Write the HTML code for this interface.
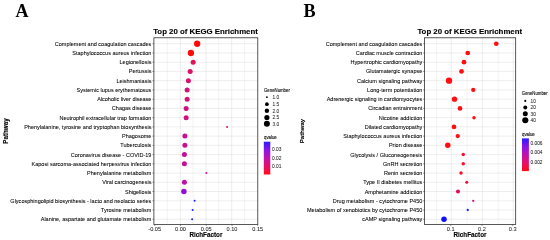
<!DOCTYPE html>
<html><head><meta charset="utf-8"><title>KEGG Enrichment</title>
<style>html,body{margin:0;padding:0;background:#fff;overflow:hidden}svg{display:block;filter:blur(0.3px)}</style></head>
<body>
<svg width="550" height="240" viewBox="0 0 550 240" font-family='"Liberation Sans", Arial, sans-serif'>
<rect width="550" height="240" fill="#fff"/>
<line x1="153.9" x2="257.8" y1="43.75" y2="43.75" stroke="#e2e2e2" stroke-width="0.6"/>
<line x1="153.9" x2="257.8" y1="52.99" y2="52.99" stroke="#e2e2e2" stroke-width="0.6"/>
<line x1="153.9" x2="257.8" y1="62.22" y2="62.22" stroke="#e2e2e2" stroke-width="0.6"/>
<line x1="153.9" x2="257.8" y1="71.46" y2="71.46" stroke="#e2e2e2" stroke-width="0.6"/>
<line x1="153.9" x2="257.8" y1="80.70" y2="80.70" stroke="#e2e2e2" stroke-width="0.6"/>
<line x1="153.9" x2="257.8" y1="89.94" y2="89.94" stroke="#e2e2e2" stroke-width="0.6"/>
<line x1="153.9" x2="257.8" y1="99.17" y2="99.17" stroke="#e2e2e2" stroke-width="0.6"/>
<line x1="153.9" x2="257.8" y1="108.41" y2="108.41" stroke="#e2e2e2" stroke-width="0.6"/>
<line x1="153.9" x2="257.8" y1="117.65" y2="117.65" stroke="#e2e2e2" stroke-width="0.6"/>
<line x1="153.9" x2="257.8" y1="126.88" y2="126.88" stroke="#e2e2e2" stroke-width="0.6"/>
<line x1="153.9" x2="257.8" y1="136.12" y2="136.12" stroke="#e2e2e2" stroke-width="0.6"/>
<line x1="153.9" x2="257.8" y1="145.36" y2="145.36" stroke="#e2e2e2" stroke-width="0.6"/>
<line x1="153.9" x2="257.8" y1="154.59" y2="154.59" stroke="#e2e2e2" stroke-width="0.6"/>
<line x1="153.9" x2="257.8" y1="163.83" y2="163.83" stroke="#e2e2e2" stroke-width="0.6"/>
<line x1="153.9" x2="257.8" y1="173.07" y2="173.07" stroke="#e2e2e2" stroke-width="0.6"/>
<line x1="153.9" x2="257.8" y1="182.31" y2="182.31" stroke="#e2e2e2" stroke-width="0.6"/>
<line x1="153.9" x2="257.8" y1="191.54" y2="191.54" stroke="#e2e2e2" stroke-width="0.6"/>
<line x1="153.9" x2="257.8" y1="200.78" y2="200.78" stroke="#e2e2e2" stroke-width="0.6"/>
<line x1="153.9" x2="257.8" y1="210.02" y2="210.02" stroke="#e2e2e2" stroke-width="0.6"/>
<line x1="153.9" x2="257.8" y1="219.25" y2="219.25" stroke="#e2e2e2" stroke-width="0.6"/>
<line x1="167.4" x2="167.4" y1="37.8" y2="224.5" stroke="#e2e2e2" stroke-width="0.4"/>
<line x1="193.1" x2="193.1" y1="37.8" y2="224.5" stroke="#e2e2e2" stroke-width="0.4"/>
<line x1="218.8" x2="218.8" y1="37.8" y2="224.5" stroke="#e2e2e2" stroke-width="0.4"/>
<line x1="244.6" x2="244.6" y1="37.8" y2="224.5" stroke="#e2e2e2" stroke-width="0.4"/>
<line x1="180.3" x2="180.3" y1="37.8" y2="224.5" stroke="#e2e2e2" stroke-width="0.6"/>
<line x1="206.0" x2="206.0" y1="37.8" y2="224.5" stroke="#e2e2e2" stroke-width="0.6"/>
<line x1="231.7" x2="231.7" y1="37.8" y2="224.5" stroke="#e2e2e2" stroke-width="0.6"/>
<rect x="153.9" y="37.8" width="103.9" height="186.7" fill="none" stroke="#222" stroke-width="0.75"/>
<line x1="152.4" x2="153.9" y1="43.75" y2="43.75" stroke="#333" stroke-width="0.5"/>
<line x1="152.4" x2="153.9" y1="52.99" y2="52.99" stroke="#333" stroke-width="0.5"/>
<line x1="152.4" x2="153.9" y1="62.22" y2="62.22" stroke="#333" stroke-width="0.5"/>
<line x1="152.4" x2="153.9" y1="71.46" y2="71.46" stroke="#333" stroke-width="0.5"/>
<line x1="152.4" x2="153.9" y1="80.70" y2="80.70" stroke="#333" stroke-width="0.5"/>
<line x1="152.4" x2="153.9" y1="89.94" y2="89.94" stroke="#333" stroke-width="0.5"/>
<line x1="152.4" x2="153.9" y1="99.17" y2="99.17" stroke="#333" stroke-width="0.5"/>
<line x1="152.4" x2="153.9" y1="108.41" y2="108.41" stroke="#333" stroke-width="0.5"/>
<line x1="152.4" x2="153.9" y1="117.65" y2="117.65" stroke="#333" stroke-width="0.5"/>
<line x1="152.4" x2="153.9" y1="126.88" y2="126.88" stroke="#333" stroke-width="0.5"/>
<line x1="152.4" x2="153.9" y1="136.12" y2="136.12" stroke="#333" stroke-width="0.5"/>
<line x1="152.4" x2="153.9" y1="145.36" y2="145.36" stroke="#333" stroke-width="0.5"/>
<line x1="152.4" x2="153.9" y1="154.59" y2="154.59" stroke="#333" stroke-width="0.5"/>
<line x1="152.4" x2="153.9" y1="163.83" y2="163.83" stroke="#333" stroke-width="0.5"/>
<line x1="152.4" x2="153.9" y1="173.07" y2="173.07" stroke="#333" stroke-width="0.5"/>
<line x1="152.4" x2="153.9" y1="182.31" y2="182.31" stroke="#333" stroke-width="0.5"/>
<line x1="152.4" x2="153.9" y1="191.54" y2="191.54" stroke="#333" stroke-width="0.5"/>
<line x1="152.4" x2="153.9" y1="200.78" y2="200.78" stroke="#333" stroke-width="0.5"/>
<line x1="152.4" x2="153.9" y1="210.02" y2="210.02" stroke="#333" stroke-width="0.5"/>
<line x1="152.4" x2="153.9" y1="219.25" y2="219.25" stroke="#333" stroke-width="0.5"/>
<line x1="154.7" x2="154.7" y1="224.5" y2="226.0" stroke="#333" stroke-width="0.5"/>
<text x="154.7" y="230.6" font-size="5.6" text-anchor="middle" fill="#222" stroke="#222" stroke-width="0.04">-0.05</text>
<line x1="180.5" x2="180.5" y1="224.5" y2="226.0" stroke="#333" stroke-width="0.5"/>
<text x="180.5" y="230.6" font-size="5.6" text-anchor="middle" fill="#222" stroke="#222" stroke-width="0.04">0.00</text>
<line x1="206.2" x2="206.2" y1="224.5" y2="226.0" stroke="#333" stroke-width="0.5"/>
<text x="206.2" y="230.6" font-size="5.6" text-anchor="middle" fill="#222" stroke="#222" stroke-width="0.04">0.05</text>
<line x1="232" x2="232" y1="224.5" y2="226.0" stroke="#333" stroke-width="0.5"/>
<text x="232" y="230.6" font-size="5.6" text-anchor="middle" fill="#222" stroke="#222" stroke-width="0.04">0.10</text>
<line x1="257.7" x2="257.7" y1="224.5" y2="226.0" stroke="#333" stroke-width="0.5"/>
<text x="257.7" y="230.6" font-size="5.6" text-anchor="middle" fill="#222" stroke="#222" stroke-width="0.04">0.15</text>
<text x="151.4" y="45.75" font-size="5.525" text-anchor="end" fill="#000" stroke="#000" stroke-width="0.06">Complement and coagulation cascades</text>
<text x="151.4" y="54.99" font-size="5.525" text-anchor="end" fill="#000" stroke="#000" stroke-width="0.06">Staphylococcus aureus infection</text>
<text x="151.4" y="64.22" font-size="5.525" text-anchor="end" fill="#000" stroke="#000" stroke-width="0.06">Legionellosis</text>
<text x="151.4" y="73.46" font-size="5.525" text-anchor="end" fill="#000" stroke="#000" stroke-width="0.06">Pertussis</text>
<text x="151.4" y="82.70" font-size="5.525" text-anchor="end" fill="#000" stroke="#000" stroke-width="0.06">Leishmaniasis</text>
<text x="151.4" y="91.94" font-size="5.525" text-anchor="end" fill="#000" stroke="#000" stroke-width="0.06">Systemic lupus erythematosus</text>
<text x="151.4" y="101.17" font-size="5.525" text-anchor="end" fill="#000" stroke="#000" stroke-width="0.06">Alcoholic liver disease</text>
<text x="151.4" y="110.41" font-size="5.525" text-anchor="end" fill="#000" stroke="#000" stroke-width="0.06">Chagas disease</text>
<text x="151.4" y="119.65" font-size="5.525" text-anchor="end" fill="#000" stroke="#000" stroke-width="0.06">Neutrophil extracellular trap formation</text>
<text x="151.4" y="128.88" font-size="5.525" text-anchor="end" fill="#000" stroke="#000" stroke-width="0.06">Phenylalanine, tyrosine and tryptophan biosynthesis</text>
<text x="151.4" y="138.12" font-size="5.525" text-anchor="end" fill="#000" stroke="#000" stroke-width="0.06">Phagosome</text>
<text x="151.4" y="147.36" font-size="5.525" text-anchor="end" fill="#000" stroke="#000" stroke-width="0.06">Tuberculosis</text>
<text x="151.4" y="156.59" font-size="5.525" text-anchor="end" fill="#000" stroke="#000" stroke-width="0.06">Coronavirus disease - COVID-19</text>
<text x="151.4" y="165.83" font-size="5.525" text-anchor="end" fill="#000" stroke="#000" stroke-width="0.06">Kaposi sarcoma-associated herpesvirus infection</text>
<text x="151.4" y="175.07" font-size="5.525" text-anchor="end" fill="#000" stroke="#000" stroke-width="0.06">Phenylalanine metabolism</text>
<text x="151.4" y="184.31" font-size="5.525" text-anchor="end" fill="#000" stroke="#000" stroke-width="0.06">Viral carcinogenesis</text>
<text x="151.4" y="193.54" font-size="5.525" text-anchor="end" fill="#000" stroke="#000" stroke-width="0.06">Shigellosis</text>
<text x="151.4" y="202.78" font-size="5.525" text-anchor="end" fill="#000" stroke="#000" stroke-width="0.06">Glycosphingolipid biosynthesis - lacto and neolacto series</text>
<text x="151.4" y="212.02" font-size="5.525" text-anchor="end" fill="#000" stroke="#000" stroke-width="0.06">Tyrosine metabolism</text>
<text x="151.4" y="221.25" font-size="5.525" text-anchor="end" fill="#000" stroke="#000" stroke-width="0.06">Alanine, aspartate and glutamate metabolism</text>
<circle cx="197.15" cy="43.75" r="3.15" fill="#ff0a0a"/>
<circle cx="190.9" cy="52.99" r="3.15" fill="#ff0a0a"/>
<circle cx="193.15" cy="62.22" r="2.5" fill="#e3115c"/>
<circle cx="190.15" cy="71.46" r="2.5" fill="#dc1168"/>
<circle cx="188.4" cy="80.70" r="2.5" fill="#d81170"/>
<circle cx="187.15" cy="89.94" r="2.5" fill="#d41178"/>
<circle cx="187.15" cy="99.17" r="2.5" fill="#d41178"/>
<circle cx="186.15" cy="108.41" r="2.5" fill="#d0117c"/>
<circle cx="186.15" cy="117.65" r="2.5" fill="#d0117c"/>
<circle cx="227.15" cy="126.88" r="1.0" fill="#e0106a"/>
<circle cx="184.9" cy="136.12" r="2.5" fill="#c81190"/>
<circle cx="184.9" cy="145.36" r="2.5" fill="#c81190"/>
<circle cx="184.4" cy="154.59" r="2.5" fill="#c61194"/>
<circle cx="184.4" cy="163.83" r="2.5" fill="#c61194"/>
<circle cx="206.4" cy="173.07" r="1.0" fill="#d01090"/>
<circle cx="184.4" cy="182.31" r="2.5" fill="#c210a0"/>
<circle cx="183.9" cy="191.54" r="2.75" fill="#9010d8"/>
<circle cx="194.65" cy="200.78" r="1.0" fill="#2020ff"/>
<circle cx="192.65" cy="210.02" r="1.0" fill="#2020ff"/>
<circle cx="192.15" cy="219.25" r="1.0" fill="#2020ff"/>
<text x="205.5" y="34.0" font-size="7.84" font-weight="bold" text-anchor="middle" fill="#000" stroke="#000" stroke-width="0.12">Top 20 of KEGG Enrichment</text>
<text x="205.9" y="237" font-size="6.3" font-weight="bold" text-anchor="middle" fill="#000" stroke="#000" stroke-width="0.12">RichFactor</text>
<text transform="translate(7.8,131) rotate(-90)" font-size="6.3" font-weight="bold" text-anchor="middle" fill="#000" stroke="#000" stroke-width="0.12">Pathway</text>
<line x1="424.5" x2="515.7" y1="43.75" y2="43.75" stroke="#e2e2e2" stroke-width="0.6"/>
<line x1="424.5" x2="515.7" y1="52.99" y2="52.99" stroke="#e2e2e2" stroke-width="0.6"/>
<line x1="424.5" x2="515.7" y1="62.22" y2="62.22" stroke="#e2e2e2" stroke-width="0.6"/>
<line x1="424.5" x2="515.7" y1="71.46" y2="71.46" stroke="#e2e2e2" stroke-width="0.6"/>
<line x1="424.5" x2="515.7" y1="80.70" y2="80.70" stroke="#e2e2e2" stroke-width="0.6"/>
<line x1="424.5" x2="515.7" y1="89.94" y2="89.94" stroke="#e2e2e2" stroke-width="0.6"/>
<line x1="424.5" x2="515.7" y1="99.17" y2="99.17" stroke="#e2e2e2" stroke-width="0.6"/>
<line x1="424.5" x2="515.7" y1="108.41" y2="108.41" stroke="#e2e2e2" stroke-width="0.6"/>
<line x1="424.5" x2="515.7" y1="117.65" y2="117.65" stroke="#e2e2e2" stroke-width="0.6"/>
<line x1="424.5" x2="515.7" y1="126.88" y2="126.88" stroke="#e2e2e2" stroke-width="0.6"/>
<line x1="424.5" x2="515.7" y1="136.12" y2="136.12" stroke="#e2e2e2" stroke-width="0.6"/>
<line x1="424.5" x2="515.7" y1="145.36" y2="145.36" stroke="#e2e2e2" stroke-width="0.6"/>
<line x1="424.5" x2="515.7" y1="154.59" y2="154.59" stroke="#e2e2e2" stroke-width="0.6"/>
<line x1="424.5" x2="515.7" y1="163.83" y2="163.83" stroke="#e2e2e2" stroke-width="0.6"/>
<line x1="424.5" x2="515.7" y1="173.07" y2="173.07" stroke="#e2e2e2" stroke-width="0.6"/>
<line x1="424.5" x2="515.7" y1="182.31" y2="182.31" stroke="#e2e2e2" stroke-width="0.6"/>
<line x1="424.5" x2="515.7" y1="191.54" y2="191.54" stroke="#e2e2e2" stroke-width="0.6"/>
<line x1="424.5" x2="515.7" y1="200.78" y2="200.78" stroke="#e2e2e2" stroke-width="0.6"/>
<line x1="424.5" x2="515.7" y1="210.02" y2="210.02" stroke="#e2e2e2" stroke-width="0.6"/>
<line x1="424.5" x2="515.7" y1="219.25" y2="219.25" stroke="#e2e2e2" stroke-width="0.6"/>
<line x1="436.5" x2="436.5" y1="37.8" y2="224.5" stroke="#e2e2e2" stroke-width="0.4"/>
<line x1="467" x2="467" y1="37.8" y2="224.5" stroke="#e2e2e2" stroke-width="0.4"/>
<line x1="498.25" x2="498.25" y1="37.8" y2="224.5" stroke="#e2e2e2" stroke-width="0.4"/>
<line x1="451.25" x2="451.25" y1="37.8" y2="224.5" stroke="#e2e2e2" stroke-width="0.6"/>
<line x1="482.5" x2="482.5" y1="37.8" y2="224.5" stroke="#e2e2e2" stroke-width="0.6"/>
<line x1="513.25" x2="513.25" y1="37.8" y2="224.5" stroke="#e2e2e2" stroke-width="0.6"/>
<rect x="424.5" y="37.8" width="91.20000000000005" height="186.7" fill="none" stroke="#222" stroke-width="0.75"/>
<line x1="423.0" x2="424.5" y1="43.75" y2="43.75" stroke="#333" stroke-width="0.5"/>
<line x1="423.0" x2="424.5" y1="52.99" y2="52.99" stroke="#333" stroke-width="0.5"/>
<line x1="423.0" x2="424.5" y1="62.22" y2="62.22" stroke="#333" stroke-width="0.5"/>
<line x1="423.0" x2="424.5" y1="71.46" y2="71.46" stroke="#333" stroke-width="0.5"/>
<line x1="423.0" x2="424.5" y1="80.70" y2="80.70" stroke="#333" stroke-width="0.5"/>
<line x1="423.0" x2="424.5" y1="89.94" y2="89.94" stroke="#333" stroke-width="0.5"/>
<line x1="423.0" x2="424.5" y1="99.17" y2="99.17" stroke="#333" stroke-width="0.5"/>
<line x1="423.0" x2="424.5" y1="108.41" y2="108.41" stroke="#333" stroke-width="0.5"/>
<line x1="423.0" x2="424.5" y1="117.65" y2="117.65" stroke="#333" stroke-width="0.5"/>
<line x1="423.0" x2="424.5" y1="126.88" y2="126.88" stroke="#333" stroke-width="0.5"/>
<line x1="423.0" x2="424.5" y1="136.12" y2="136.12" stroke="#333" stroke-width="0.5"/>
<line x1="423.0" x2="424.5" y1="145.36" y2="145.36" stroke="#333" stroke-width="0.5"/>
<line x1="423.0" x2="424.5" y1="154.59" y2="154.59" stroke="#333" stroke-width="0.5"/>
<line x1="423.0" x2="424.5" y1="163.83" y2="163.83" stroke="#333" stroke-width="0.5"/>
<line x1="423.0" x2="424.5" y1="173.07" y2="173.07" stroke="#333" stroke-width="0.5"/>
<line x1="423.0" x2="424.5" y1="182.31" y2="182.31" stroke="#333" stroke-width="0.5"/>
<line x1="423.0" x2="424.5" y1="191.54" y2="191.54" stroke="#333" stroke-width="0.5"/>
<line x1="423.0" x2="424.5" y1="200.78" y2="200.78" stroke="#333" stroke-width="0.5"/>
<line x1="423.0" x2="424.5" y1="210.02" y2="210.02" stroke="#333" stroke-width="0.5"/>
<line x1="423.0" x2="424.5" y1="219.25" y2="219.25" stroke="#333" stroke-width="0.5"/>
<line x1="450.75" x2="450.75" y1="224.5" y2="226.0" stroke="#333" stroke-width="0.5"/>
<text x="450.75" y="230.6" font-size="5.6" text-anchor="middle" fill="#222" stroke="#222" stroke-width="0.04">0.1</text>
<line x1="482" x2="482" y1="224.5" y2="226.0" stroke="#333" stroke-width="0.5"/>
<text x="482" y="230.6" font-size="5.6" text-anchor="middle" fill="#222" stroke="#222" stroke-width="0.04">0.2</text>
<line x1="512.75" x2="512.75" y1="224.5" y2="226.0" stroke="#333" stroke-width="0.5"/>
<text x="512.75" y="230.6" font-size="5.6" text-anchor="middle" fill="#222" stroke="#222" stroke-width="0.04">0.3</text>
<text x="422.3" y="45.75" font-size="5.525" text-anchor="end" fill="#000" stroke="#000" stroke-width="0.06">Complement and coagulation cascades</text>
<text x="422.3" y="54.99" font-size="5.525" text-anchor="end" fill="#000" stroke="#000" stroke-width="0.06">Cardiac muscle contraction</text>
<text x="422.3" y="64.22" font-size="5.525" text-anchor="end" fill="#000" stroke="#000" stroke-width="0.06">Hypertrophic cardiomyopathy</text>
<text x="422.3" y="73.46" font-size="5.525" text-anchor="end" fill="#000" stroke="#000" stroke-width="0.06">Glutamatergic synapse</text>
<text x="422.3" y="82.70" font-size="5.525" text-anchor="end" fill="#000" stroke="#000" stroke-width="0.06">Calcium signaling pathway</text>
<text x="422.3" y="91.94" font-size="5.525" text-anchor="end" fill="#000" stroke="#000" stroke-width="0.06">Long-term potentiation</text>
<text x="422.3" y="101.17" font-size="5.525" text-anchor="end" fill="#000" stroke="#000" stroke-width="0.06">Adrenergic signaling in cardiomyocytes</text>
<text x="422.3" y="110.41" font-size="5.525" text-anchor="end" fill="#000" stroke="#000" stroke-width="0.06">Circadian entrainment</text>
<text x="422.3" y="119.65" font-size="5.525" text-anchor="end" fill="#000" stroke="#000" stroke-width="0.06">Nicotine addiction</text>
<text x="422.3" y="128.88" font-size="5.525" text-anchor="end" fill="#000" stroke="#000" stroke-width="0.06">Dilated cardiomyopathy</text>
<text x="422.3" y="138.12" font-size="5.525" text-anchor="end" fill="#000" stroke="#000" stroke-width="0.06">Staphylococcus aureus infection</text>
<text x="422.3" y="147.36" font-size="5.525" text-anchor="end" fill="#000" stroke="#000" stroke-width="0.06">Prion disease</text>
<text x="422.3" y="156.59" font-size="5.525" text-anchor="end" fill="#000" stroke="#000" stroke-width="0.06">Glycolysis / Gluconeogenesis</text>
<text x="422.3" y="165.83" font-size="5.525" text-anchor="end" fill="#000" stroke="#000" stroke-width="0.06">GnRH secretion</text>
<text x="422.3" y="175.07" font-size="5.525" text-anchor="end" fill="#000" stroke="#000" stroke-width="0.06">Renin secretion</text>
<text x="422.3" y="184.31" font-size="5.525" text-anchor="end" fill="#000" stroke="#000" stroke-width="0.06">Type II diabetes mellitus</text>
<text x="422.3" y="193.54" font-size="5.525" text-anchor="end" fill="#000" stroke="#000" stroke-width="0.06">Amphetamine addiction</text>
<text x="422.3" y="202.78" font-size="5.525" text-anchor="end" fill="#000" stroke="#000" stroke-width="0.06">Drug metabolism - cytochrome P450</text>
<text x="422.3" y="212.02" font-size="5.525" text-anchor="end" fill="#000" stroke="#000" stroke-width="0.06">Metabolism of xenobiotics by cytochrome P450</text>
<text x="422.3" y="221.25" font-size="5.525" text-anchor="end" fill="#000" stroke="#000" stroke-width="0.06">cAMP signaling pathway</text>
<circle cx="496.25" cy="43.75" r="2.35" fill="#ff0d10"/>
<circle cx="467.75" cy="52.99" r="2.35" fill="#ff0d10"/>
<circle cx="464.0" cy="62.22" r="2.35" fill="#ff0d10"/>
<circle cx="461.5" cy="71.46" r="2.35" fill="#ff0d10"/>
<circle cx="449.0" cy="80.70" r="3.15" fill="#ff0d10"/>
<circle cx="473.25" cy="89.94" r="2.15" fill="#ff0d10"/>
<circle cx="454.5" cy="99.17" r="2.65" fill="#ff0d10"/>
<circle cx="460.0" cy="108.41" r="2.35" fill="#ff0d10"/>
<circle cx="474.0" cy="117.65" r="1.75" fill="#ff0d10"/>
<circle cx="454.0" cy="126.88" r="2.35" fill="#ff0d10"/>
<circle cx="457.75" cy="136.12" r="2.15" fill="#ff0d10"/>
<circle cx="447.75" cy="145.36" r="2.75" fill="#ff0d10"/>
<circle cx="463.25" cy="154.59" r="1.75" fill="#f80f30"/>
<circle cx="463.25" cy="163.83" r="1.75" fill="#f80f30"/>
<circle cx="461.0" cy="173.07" r="1.75" fill="#f80f30"/>
<circle cx="466.75" cy="182.31" r="1.55" fill="#ec1048"/>
<circle cx="458.0" cy="191.54" r="2.05" fill="#dc1060"/>
<circle cx="473.25" cy="200.78" r="1.15" fill="#d01080"/>
<circle cx="467.75" cy="210.02" r="1.15" fill="#2020ff"/>
<circle cx="444.0" cy="219.25" r="2.75" fill="#1010ff"/>
<text x="469.75" y="34.0" font-size="7.84" font-weight="bold" text-anchor="middle" fill="#000" stroke="#000" stroke-width="0.12">Top 20 of KEGG Enrichment</text>
<text x="470" y="237" font-size="6.3" font-weight="bold" text-anchor="middle" fill="#000" stroke="#000" stroke-width="0.12">RichFactor</text>
<text transform="translate(303.9,131) rotate(-90)" font-size="6.0" font-weight="bold" text-anchor="middle" fill="#000" stroke="#000" stroke-width="0.12">Pathway</text>
<text x="15.4" y="16.5" font-family='"Liberation Serif", "Times New Roman", serif' font-weight="bold" font-size="18.0" fill="#000">A</text>
<text x="303.4" y="16.6" font-family='"Liberation Serif", "Times New Roman", serif' font-weight="bold" font-size="18.2" fill="#000">B</text>
<defs><linearGradient id="g" x1="0" y1="0" x2="0" y2="1"><stop offset="0" stop-color="#2a1cff"/><stop offset="0.25" stop-color="#8a14e4"/><stop offset="0.5" stop-color="#c010b0"/><stop offset="0.75" stop-color="#e60f6a"/><stop offset="1" stop-color="#ff0d14"/></linearGradient></defs>
<text transform="translate(264,92.4) scale(0.9,1)" font-size="4.8" fill="#000" stroke="#000" stroke-width="0.1">GeneNumber</text>
<circle cx="266.9" cy="97.2" r="0.9" fill="#000"/>
<text x="272.5" y="98.9" font-size="4.8" fill="#222" stroke="#222" stroke-width="0.04">1.0</text>
<circle cx="266.9" cy="104.2" r="1.85" fill="#000"/>
<text x="272.5" y="105.9" font-size="4.8" fill="#222" stroke="#222" stroke-width="0.04">1.5</text>
<circle cx="266.9" cy="110.8" r="2.2" fill="#000"/>
<text x="272.5" y="112.5" font-size="4.8" fill="#222" stroke="#222" stroke-width="0.04">2.0</text>
<circle cx="266.9" cy="117.5" r="2.6" fill="#000"/>
<text x="272.5" y="119.2" font-size="4.8" fill="#222" stroke="#222" stroke-width="0.04">2.5</text>
<circle cx="266.9" cy="123.8" r="3.0" fill="#000"/>
<text x="272.5" y="125.5" font-size="4.8" fill="#222" stroke="#222" stroke-width="0.04">3.0</text>
<text transform="translate(264,139) scale(0.9,1)" font-size="4.8" fill="#000" stroke="#000" stroke-width="0.1">qvalue</text>
<rect x="263.8" y="141.7" width="6.5" height="32.8" fill="url(#g)"/>
<text x="272" y="150.79999999999998" font-size="4.8" fill="#222" stroke="#222" stroke-width="0.04">0.03</text>
<text x="272" y="159.6" font-size="4.8" fill="#222" stroke="#222" stroke-width="0.04">0.02</text>
<text x="272" y="168.2" font-size="4.8" fill="#222" stroke="#222" stroke-width="0.04">0.01</text>
<text transform="translate(521.8,95.4) scale(0.9,1)" font-size="4.8" fill="#000" stroke="#000" stroke-width="0.1">GeneNumber</text>
<circle cx="525.3" cy="100.9" r="1.05" fill="#000"/>
<text x="530.5" y="102.60000000000001" font-size="4.8" fill="#222" stroke="#222" stroke-width="0.04">10</text>
<circle cx="525.3" cy="107.4" r="2.0" fill="#000"/>
<text x="530.5" y="109.10000000000001" font-size="4.8" fill="#222" stroke="#222" stroke-width="0.04">20</text>
<circle cx="525.3" cy="113.8" r="2.5" fill="#000"/>
<text x="530.5" y="115.5" font-size="4.8" fill="#222" stroke="#222" stroke-width="0.04">30</text>
<circle cx="525.3" cy="120.3" r="3.05" fill="#000"/>
<text x="530.5" y="122.0" font-size="4.8" fill="#222" stroke="#222" stroke-width="0.04">40</text>
<text transform="translate(522,135.9) scale(0.9,1)" font-size="4.8" fill="#000" stroke="#000" stroke-width="0.1">qvalue</text>
<rect x="522" y="138.4" width="6.9" height="32.7" fill="url(#g)"/>
<text x="530.5" y="144.6" font-size="4.8" fill="#222" stroke="#222" stroke-width="0.04">0.006</text>
<text x="530.5" y="154.2" font-size="4.8" fill="#222" stroke="#222" stroke-width="0.04">0.004</text>
<text x="530.5" y="163.7" font-size="4.8" fill="#222" stroke="#222" stroke-width="0.04">0.002</text>
</svg>
</body></html>
